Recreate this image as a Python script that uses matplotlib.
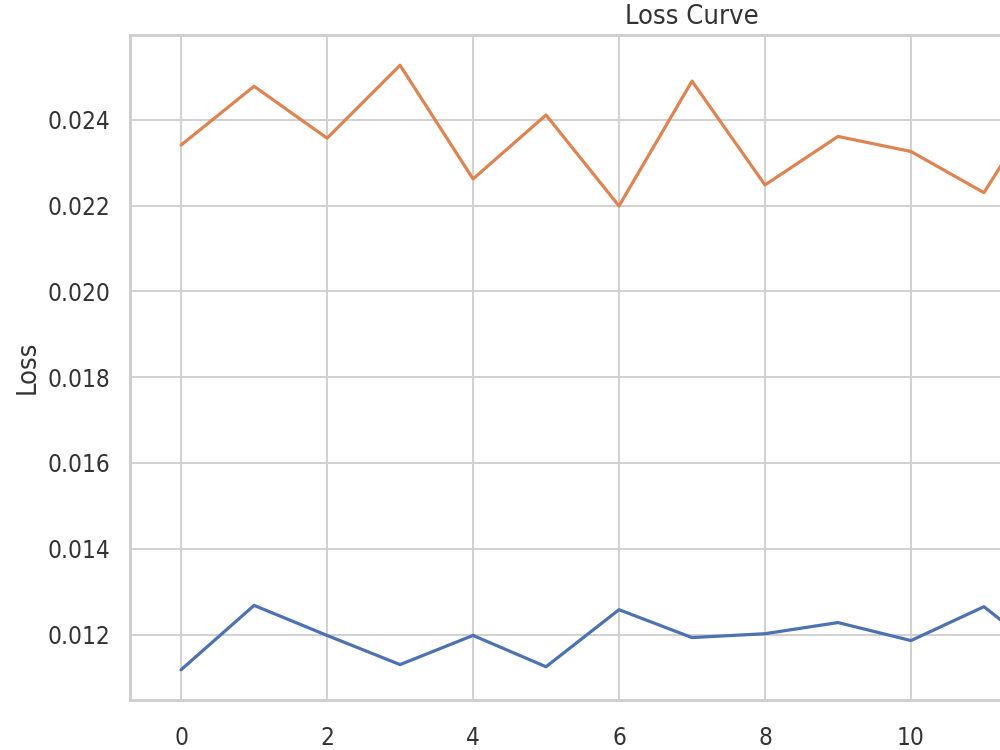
import matplotlib
matplotlib.use("Agg")
import matplotlib.pyplot as plt
import seaborn as sns

epochs = list(range(15))
train_loss = [0.01118, 0.01268, 0.01198, 0.01130, 0.01198, 0.01125, 0.01258,
              0.01193, 0.01202, 0.01228, 0.01186, 0.01265, 0.01130, 0.01200, 0.01180]
val_loss = [0.02341, 0.02478, 0.02357, 0.02527, 0.02262, 0.02411, 0.02199,
            0.02490, 0.02248, 0.02361, 0.02326, 0.02230, 0.02500, 0.02320, 0.02360]
x_ticks = [0, 2, 4, 6, 8, 10]
y_ticks = [0.012, 0.014, 0.016, 0.018, 0.020, 0.022, 0.024]

sns.set_theme(style="whitegrid")
plt.rcParams['font.family'] = ['DejaVu Sans']
plt.rcParams['font.stretch'] = 'condensed'

fig = plt.figure(figsize=(10, 7.5), dpi=100)
ax = fig.add_axes([0.13, 0.0667, 1.124, 0.8866])

ax.plot(epochs, train_loss, color="#4C72B0", linewidth=2.3, label="Train Loss")
ax.plot(epochs, val_loss, color="#DD8452", linewidth=2.3, label="Validation Loss")

ax.set_title("Loss Curve", fontsize=19.5, color="0.2", pad=8)
ax.set_ylabel("Loss", fontsize=19.5, color="0.2", labelpad=5)
ax.set_xticks(x_ticks)
ax.set_yticks(y_ticks)
ax.tick_params(axis="x", labelsize=17.5, pad=13, colors="0.2")
ax.tick_params(axis="y", labelsize=17.5, pad=8, colors="0.2")
ax.grid(True, color="0.82", linewidth=1.4)
for s in ax.spines.values():
    s.set_color("0.8")
    s.set_linewidth(2)

fig.savefig("out.png", dpi=100)
